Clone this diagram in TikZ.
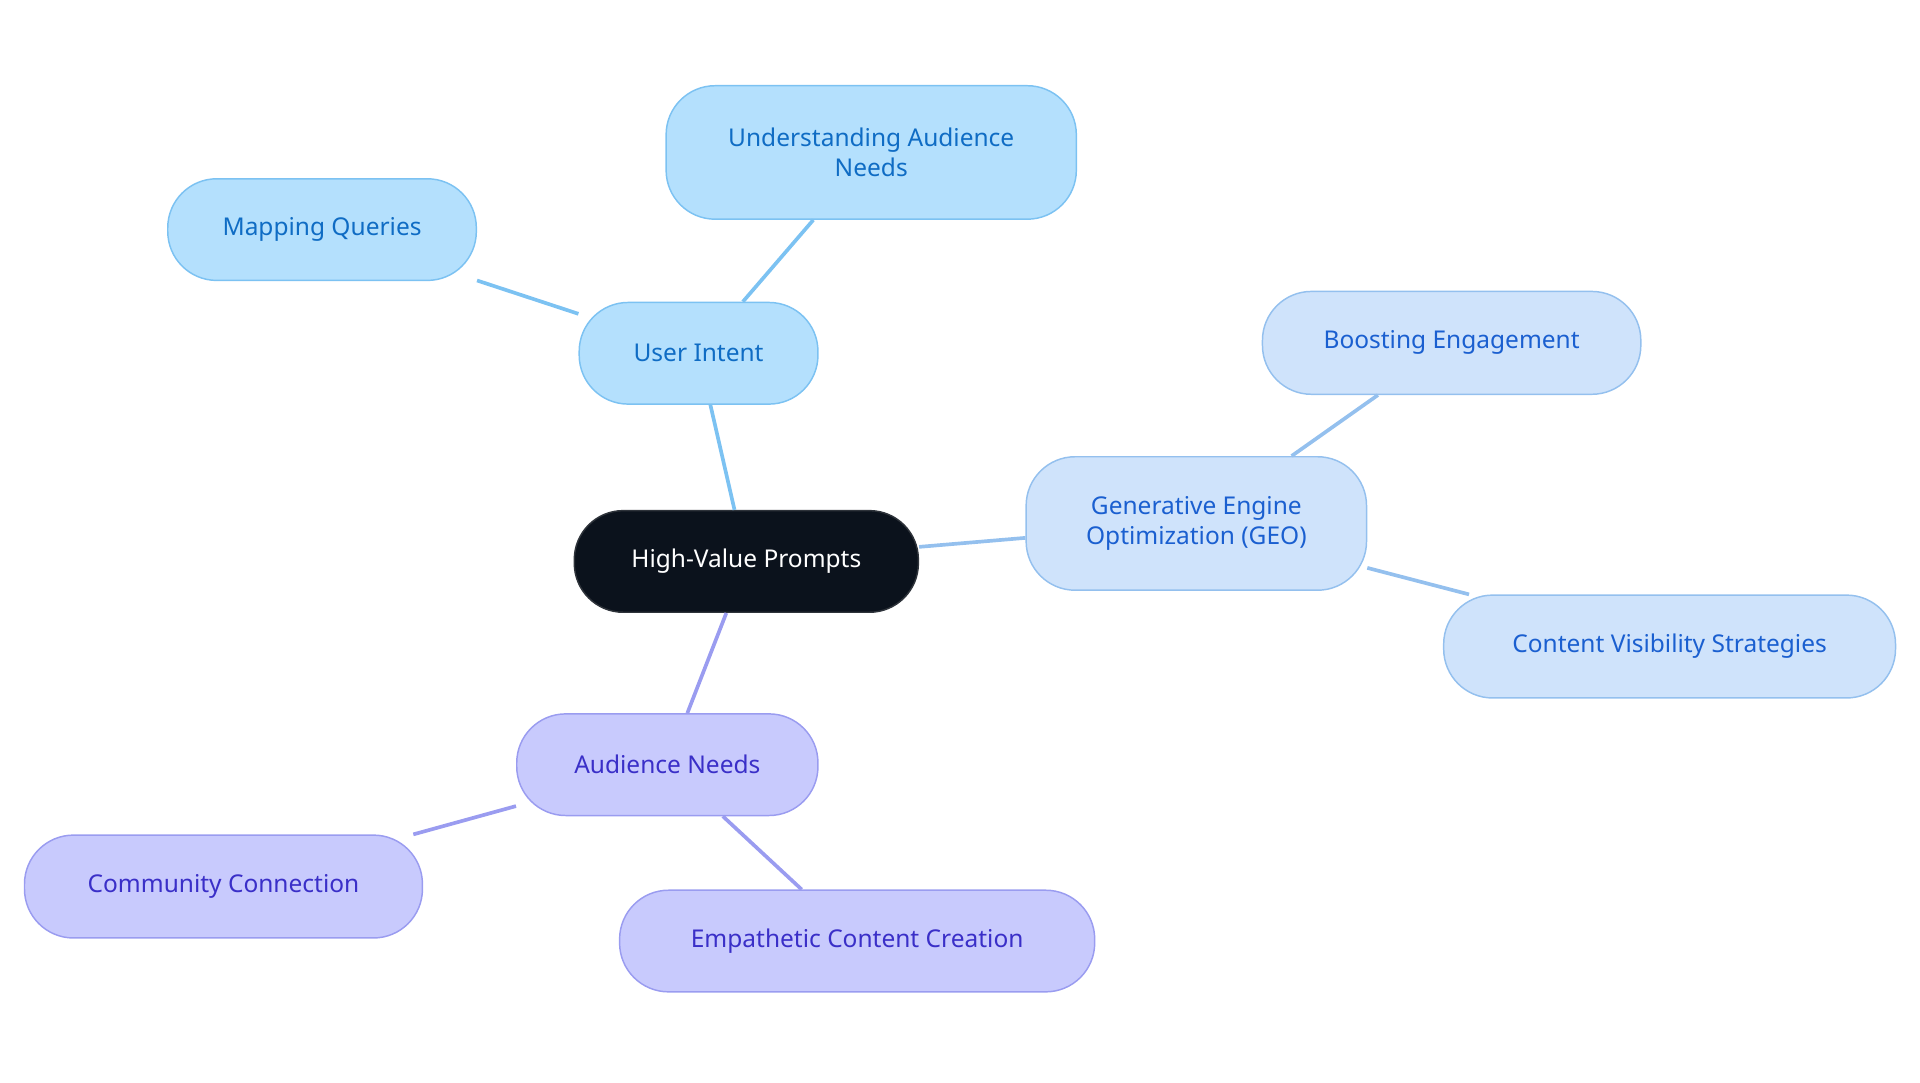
\documentclass[tikz,border=0pt]{standalone}
\usepackage{fontspec}
\setmainfont{Noto Sans}
\definecolor{bF}{HTML}{B4E0FD}\definecolor{bS}{HTML}{7CC2F2}\definecolor{bT}{HTML}{0F6CC4}
\definecolor{gF}{HTML}{CFE3FB}\definecolor{gS}{HTML}{94C0EE}\definecolor{gT}{HTML}{1A5FD0}
\definecolor{pF}{HTML}{C8CAFD}\definecolor{pS}{HTML}{9A9CF0}\definecolor{pT}{HTML}{3A2FC8}
\definecolor{cF}{HTML}{0B121C}
\begin{document}
\begin{tikzpicture}[x=1pt,y=-1pt,
 box/.style={draw,line width=1.2pt,rounded corners=40pt,align=center,font=\fontsize{20}{25}\selectfont,inner sep=0pt},
 bb/.style={box,fill=bF,draw=bS,text=bT},
 gg/.style={box,fill=gF,draw=gS,text=gT},
 pp/.style={box,fill=pF,draw=pS,text=pT},
 eb/.style={draw=bS,line width=3pt},
 eg/.style={draw=gS,line width=3pt},
 ep/.style={draw=pS,line width=3pt}]
\useasboundingbox (0,0) rectangle (1568,884);
\node[box,fill=cF,draw=cF!70!gray,text=white,minimum width=281pt,minimum height=83pt] (c) at (609.5,458.5) {High-Value Prompts};
\node[bb,minimum width=195pt,minimum height=83pt] (ui) at (570.5,288.5) {User Intent};
\node[bb,minimum width=335pt,minimum height=109pt] (un) at (711.5,124.5) {Understanding Audience\\Needs};
\node[bb,minimum width=252pt,minimum height=83pt] (mq) at (263,187.5) {Mapping Queries};
\node[gg,minimum width=278pt,minimum height=109pt] (geo) at (977,427.5) {Generative Engine\\Optimization (GEO)};
\node[gg,minimum width=309pt,minimum height=84pt] (be) at (1185.5,280) {Boosting Engagement};
\node[gg,minimum width=369pt,minimum height=84pt] (cv) at (1363.5,528) {Content Visibility Strategies};
\node[pp,minimum width=246pt,minimum height=83pt] (an) at (545,624.5) {Audience Needs};
\node[pp,minimum width=325pt,minimum height=84pt] (cc) at (182.5,724) {Community Connection};
\node[pp,minimum width=388pt,minimum height=83pt] (ec) at (700,768.5) {Empathetic Content Creation};
\draw[eb] (c) -- (ui);
\draw[eb] (ui) -- (un);
\draw[eb] (ui) -- (mq);
\draw[eg] (c) -- (geo);
\draw[eg] (geo) -- (be);
\draw[eg] (geo) -- (cv);
\draw[ep] (c) -- (an);
\draw[ep] (an) -- (cc);
\draw[ep] (an) -- (ec);
\end{tikzpicture}
\end{document}
